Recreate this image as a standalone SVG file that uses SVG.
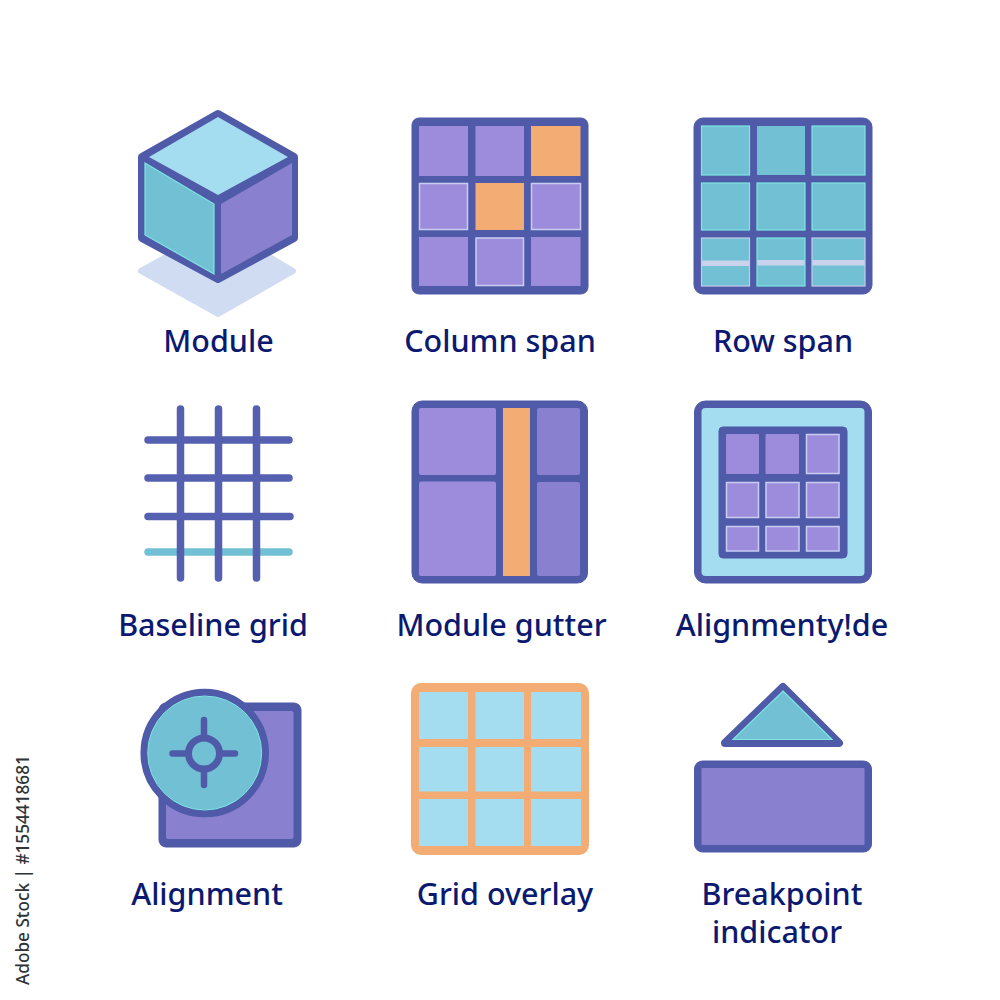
<svg xmlns="http://www.w3.org/2000/svg" width="1000" height="1000" viewBox="0 0 1000 1000">
<style>
text{font-family:"Noto Sans","Liberation Sans",sans-serif;font-size:30.500px;font-weight:500;fill:#0b1a70;text-anchor:middle}
.frame{fill:#4f5aa8;stroke:#4f5aa8;stroke-width:1}
.p{fill:#9d8cdc}
.pl{fill:#9d8cdc;stroke:#c9cdf2;stroke-width:1.5}
.d{fill:#8a80d0}
.o{fill:#f3ad74}
.t{fill:#72c0d4}
.tl{fill:#72c0d4;stroke:#7fe6e2;stroke-width:1.2}
.tg{fill:#72c0d4;stroke:#c4cdea;stroke-width:1.2}
.b{fill:#a4dcf0}
.line{stroke:#5660b0;stroke-width:7.5;stroke-linecap:round;fill:none}
</style>
<rect width="1000" height="1000" fill="#ffffff"/>

<g id="module">
<path d="M141 271L170 255L266 255L293 271L218 314Z" fill="#d0dcf2" stroke="#d0dcf2" stroke-width="6" stroke-linejoin="round"/>
<path d="M218 114L294 157V238L218 279L142 238V157Z" class="frame" style="stroke-width:8;stroke-linejoin:round"/>
<path d="M218 117L288 157L218 195L149 157Z" class="b"/>
<path d="M145 163L214 204V274L145 235Z" class="tl"/>
<path d="M221 204L292 163V235L221 274Z" class="d"/>
<text x="218.500" y="352">Module</text>
</g>

<g id="column-span">
<rect x="412" y="118" width="176" height="176" rx="7" class="frame"/>
<rect x="419" y="126" width="49" height="50" class="p"/>
<rect x="475.500" y="126" width="48.500" height="50" class="p"/>
<rect x="531" y="126" width="49.500" height="50" class="o"/>
<rect x="419.500" y="183.500" width="48" height="46" class="pl"/>
<rect x="475.500" y="183" width="48.500" height="47" class="o"/>
<rect x="531.500" y="183.500" width="49" height="46" class="pl"/>
<rect x="419" y="237" width="49" height="49" class="p"/>
<rect x="476" y="238" width="47.500" height="47.500" class="pl"/>
<rect x="531" y="237" width="49.500" height="49" class="p"/>
<text x="500" y="352">Column span</text>
</g>

<g id="row-span">
<rect x="694" y="118" width="178" height="176" rx="9" class="frame"/>
<rect x="701.500" y="126" width="48" height="49" class="tl"/>
<rect x="757" y="126" width="48" height="49" class="t"/>
<rect x="812" y="126" width="53" height="49" class="tl"/>
<rect x="701.500" y="183" width="48" height="47" class="tl"/>
<rect x="757" y="183" width="48" height="47" class="tl"/>
<rect x="812" y="183" width="53" height="47" class="tl"/>
<rect x="701.500" y="238" width="48" height="48" class="tg"/>
<rect x="757" y="238" width="48" height="48" class="tl"/>
<rect x="812" y="238" width="53" height="48" class="tg"/>
<rect x="702" y="260.500" width="47" height="5.500" fill="#c9d3ec"/>
<rect x="757.500" y="260" width="47" height="5.500" fill="#c9d3ec"/>
<rect x="812.500" y="260" width="52" height="5.500" fill="#c9d3ec"/>
<text x="783" y="352">Row span</text>
</g>

<g id="baseline-grid">
<path d="M148 552H289" stroke="#72c0d4" stroke-width="7.500" stroke-linecap="round"/>
<path d="M148 440H289M148 478H289M148 516.500H290M180.500 409V578M218.500 409V578M256.500 409V578" class="line"/>
<text x="213" y="636">Baseline grid</text>
</g>

<g id="module-gutter">
<rect x="412" y="401" width="175.500" height="182" rx="10" class="frame"/>
<rect x="419" y="408" width="77" height="67" rx="2" class="p"/>
<rect x="419" y="481.500" width="77" height="94.500" rx="2" class="p"/>
<rect x="503" y="408" width="27" height="168" class="o"/>
<rect x="537" y="408" width="43" height="67" rx="2" class="d"/>
<rect x="537" y="482" width="43" height="94" rx="2" class="d"/>
<text x="501.500" y="636">Module gutter</text>
</g>

<g id="alignment-guide">
<rect x="694.500" y="401" width="177" height="182" rx="11" class="frame"/>
<rect x="701.500" y="408" width="163" height="168" rx="4" class="b"/>
<rect x="719" y="427" width="128" height="131" rx="4" class="frame"/>
<rect x="726" y="434" width="33" height="40" rx="1" class="p"/>
<rect x="765.500" y="434" width="33.500" height="40" rx="1" class="p"/>
<rect x="806.500" y="434.500" width="32.500" height="39" class="pl"/>
<rect x="726.500" y="482.500" width="32" height="35" class="pl"/>
<rect x="766" y="482.500" width="33" height="35" class="pl"/>
<rect x="806.500" y="482.500" width="32.500" height="35" class="pl"/>
<rect x="726.500" y="526.500" width="32" height="24.500" class="pl"/>
<rect x="766" y="526.500" width="33" height="24.500" class="pl"/>
<rect x="806.500" y="526.500" width="32.500" height="24.500" class="pl"/>
<text x="782" y="636">Alignmenty!de</text>
</g>

<g id="alignment">
<rect x="159" y="703" width="142" height="144" rx="7" class="frame"/>
<rect x="166" y="711" width="127.500" height="128" rx="2" class="d"/>
<circle cx="204.700" cy="753" r="60.500" fill="#72c0d4" stroke="#4f5aa8" stroke-width="7.500"/>
<circle cx="204.700" cy="753" r="57" fill="none" stroke="#7fe6e2" stroke-width="1"/>
<circle cx="204" cy="753.500" r="15.500" fill="none" stroke="#4f5aa8" stroke-width="7"/>
<path d="M204 720V738M204 769V785M172.500 753.500H188M220 753.500H235" fill="none" stroke="#4f5aa8" stroke-width="6.500" stroke-linecap="round"/>
<text x="207" y="905">Alignment</text>
</g>

<g id="grid-overlay">
<rect x="411" y="683" width="178" height="172" rx="10" class="o"/>
<rect x="419" y="692" width="49" height="47" class="b"/>
<rect x="475.500" y="692" width="48.500" height="47" class="b"/>
<rect x="531" y="692" width="50" height="47" class="b"/>
<rect x="419" y="747" width="49" height="44.500" class="b"/>
<rect x="475.500" y="747" width="48.500" height="44.500" class="b"/>
<rect x="531" y="747" width="50" height="44.500" class="b"/>
<rect x="419" y="799" width="49" height="47" class="b"/>
<rect x="475.500" y="799" width="48.500" height="47" class="b"/>
<rect x="531" y="799" width="50" height="47" class="b"/>
<text x="505" y="905">Grid overlay</text>
</g>

<g id="breakpoint-indicator">
<path d="M783 687L839 743H725Z" fill="#4f5aa8" stroke="#4f5aa8" stroke-width="8" stroke-linejoin="round"/>
<path d="M783 691L832 739.500H733Z" class="tl"/>
<rect x="694.500" y="761" width="177" height="91" rx="8" class="frame"/>
<rect x="701.500" y="768" width="163" height="77" rx="1" class="d"/>
<text x="782" y="905">Breakpoint</text>
<text x="777" y="943">indicator</text>
</g>

<text transform="translate(29 985) rotate(-90)" x="0" y="0" style="font-size:17.200px;font-weight:500;fill:#2e3438;text-anchor:start">Adobe Stock | #1554418681</text>
</svg>
